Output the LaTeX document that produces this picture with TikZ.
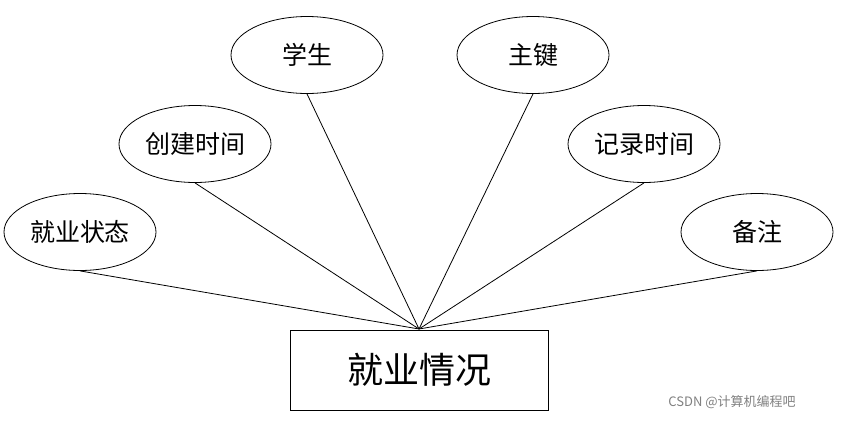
\documentclass[tikz,border=0pt]{standalone}
\usepackage{fontspec}
\setmainfont{Noto Sans CJK SC}
\usetikzlibrary{shapes.geometric}
\begin{document}
\begin{tikzpicture}[x=1pt,y=-1pt,line width=0.8pt,
  attr/.style={draw,ellipse,minimum width=152pt,minimum height=77pt,font=\fontsize{25}{25}\selectfont,inner sep=0pt},
  ent/.style={draw,minimum width=258pt,minimum height=80pt,font=\fontsize{36}{36}\selectfont}]
\useasboundingbox (0,0) rectangle (846,421);
\node[attr] (a1) at (80,232) {就业状态};
\node[attr] (a2) at (195,144) {创建时间};
\node[attr] (a3) at (307,55) {学生};
\node[attr] (a4) at (533,55) {主键};
\node[attr] (a5) at (644,144) {记录时间};
\node[attr] (a6) at (757,232) {备注};
\node[ent] (e) at (419,370) {就业情况};
\coordinate (c) at (419,329);
\foreach \n in {a1,a2,a3,a4,a5,a6} \draw (\n.south) -- (c);
\node[text=gray,font=\fontsize{13}{13}\selectfont] (w) at (732,402) {CSDN @计算机编程吧};
\end{tikzpicture}
\end{document}
